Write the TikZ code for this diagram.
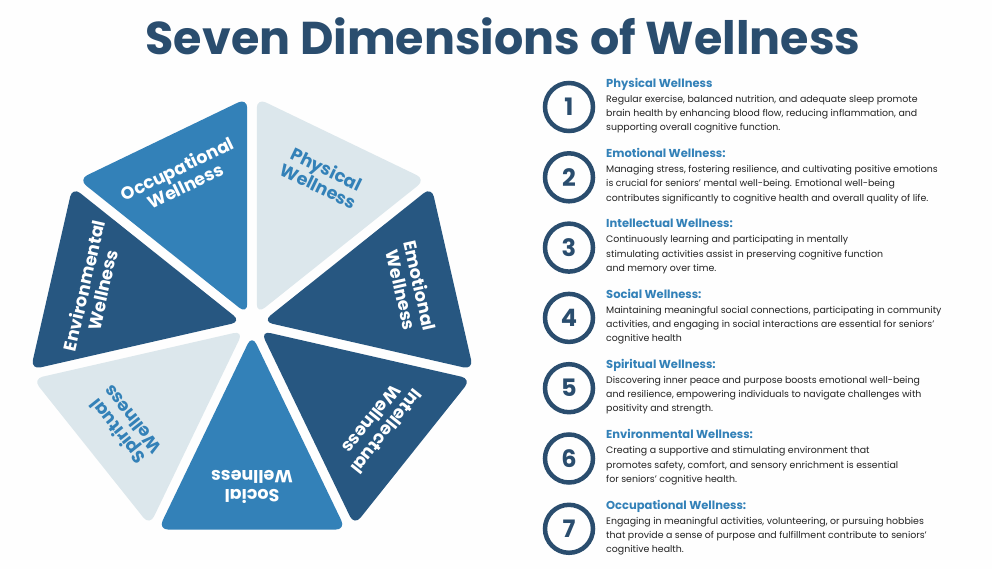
\documentclass[tikz,border=0pt]{standalone}
\usepackage{fontspec}
\setmainfont{Poppins}
\usepackage{tikz}

\definecolor{navy}{HTML}{2A4D6E}
\definecolor{darkseg}{HTML}{275781}
\definecolor{midblue}{HTML}{3381B8}
\definecolor{lightseg}{HTML}{DCE7EC}
\definecolor{bodytext}{HTML}{222222}

\tikzset{
  seglabel/.style={align=center,font=\fontsize{17.5}{19}\selectfont\bfseries,inner sep=0pt},
  numcircle/.style={circle,draw=navy,line width=4.5pt,minimum size=48pt,inner sep=0pt,
    text=navy,font=\fontsize{24}{24}\selectfont\bfseries},
  itemhead/.style={anchor=north west,inner sep=0pt,text=midblue,font=\fontsize{11.5}{13}\selectfont\bfseries},
  itembody/.style={anchor=north west,inner sep=0pt,align=left,text=bodytext,font=\fontsize{9.4}{14.2}\selectfont}
}

\begin{document}
\begin{tikzpicture}[x=1pt,y=1pt,yscale=-1]
\useasboundingbox (0,0) rectangle (992,569);
\fill[white!96!lightseg] (0,0) rectangle (992,569);

% title
\node[text=navy,font=\fontsize{46}{48}\selectfont\bfseries,inner sep=0pt] (title) at (503,36) {Seven Dimensions of Wellness};

% wheel
\begin{scope}[shift={(252,324)}]
\foreach \k/\fc/\tc/\lbl in {0/lightseg/midblue/{Physical\\Wellness},
    1/darkseg/white/{Emotional\\Wellness},
    2/darkseg/white/{Intellectual\\Wellness},
    3/midblue/white/{Social\\Wellness},
    4/lightseg/midblue/{Spiritual\\Wellness},
    5/darkseg/white/{Environmental\\Wellness},
    6/midblue/white/{Occupational\\Wellness}}{
  \pgfmathsetmacro\va{-(90-\k*360/7)}
  \pgfmathsetmacro\vb{-(90-(\k+1)*360/7)}
  \pgfmathsetmacro\bis{90-(\k+0.5)*360/7}
  \pgfmathsetmacro\rot{\bis-90}
  \begin{scope}[shift={(-\bis:11)}]
    \fill[\fc,rounded corners=10pt] (0,0) -- (\va:216) -- (\vb:216) -- cycle;
    \node[seglabel,text=\tc,rotate=\rot] (seg\k) at (-\bis:152) {\lbl};
  \end{scope}
}
\end{scope}

% list
\foreach \n/\head/\body in {
  1/{Physical Wellness}/{Regular exercise, balanced nutrition, and adequate sleep promote\\brain health by enhancing blood flow, reducing inflammation, and\\supporting overall cognitive function.},
  2/{Emotional Wellness:}/{Managing stress, fostering resilience, and cultivating positive emotions\\is crucial for seniors' mental well-being. Emotional well-being\\contributes significantly to cognitive health and overall quality of life.},
  3/{Intellectual Wellness:}/{Continuously learning and participating in mentally\\stimulating activities assist in preserving cognitive function\\and memory over time.},
  4/{Social Wellness:}/{Maintaining meaningful social connections, participating in community\\activities, and engaging in social interactions are essential for seniors'\\cognitive health},
  5/{Spiritual Wellness:}/{Discovering inner peace and purpose boosts emotional well-being\\and resilience, empowering individuals to navigate challenges with\\positivity and strength.},
  6/{Environmental Wellness:}/{Creating a supportive and stimulating environment that\\promotes safety, comfort, and sensory enrichment is essential\\for seniors' cognitive health.},
  7/{Occupational Wellness:}/{Engaging in meaningful activities, volunteering, or pursuing hobbies\\that provide a sense of purpose and fulfillment contribute to seniors'\\cognitive health.}}{
  \pgfmathsetmacro\yy{107+(\n-1)*70.3}
  \node[numcircle] (num\n) at (569,\yy) {\n};
  \node[itemhead] (head\n) at (606,\yy-29) {\head};
  \node[itembody] (body\n) at (606,\yy-12) {\body};
}
\end{tikzpicture}
\end{document}
